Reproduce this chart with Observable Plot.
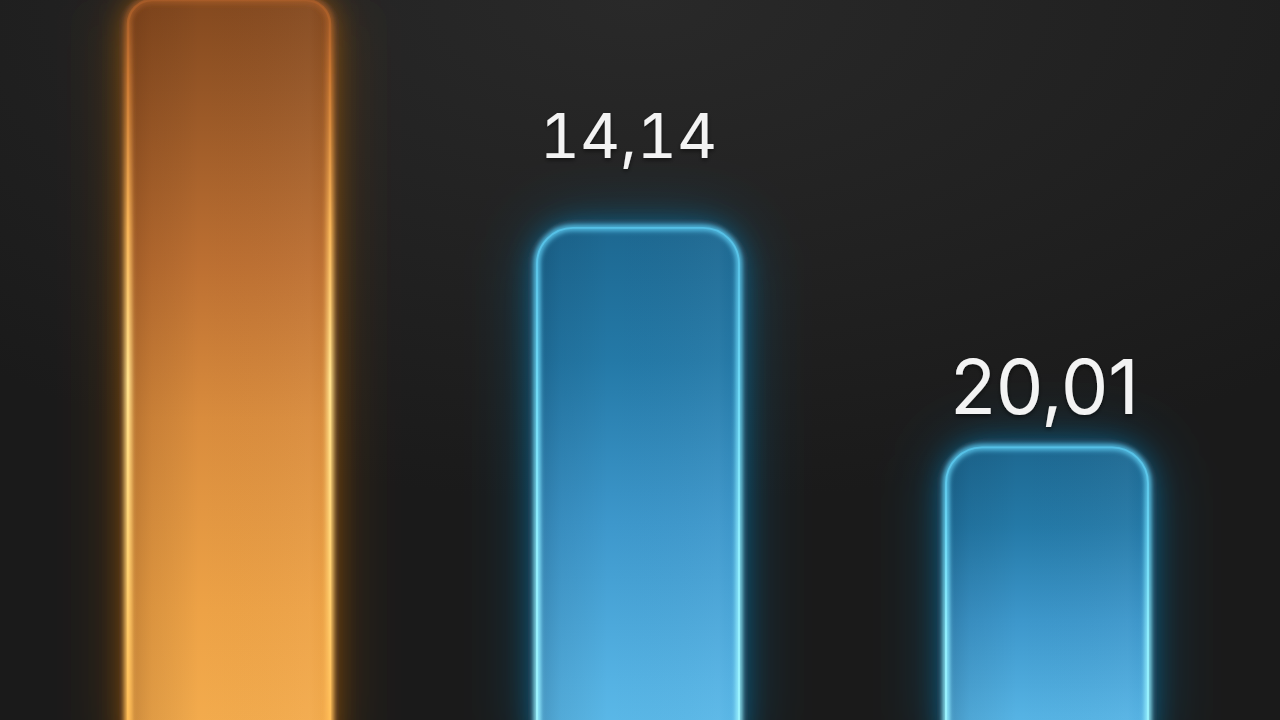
<!DOCTYPE html>
<html><head><meta charset="utf-8">
<script src="https://cdn.jsdelivr.net/npm/d3@7"></script>
<script src="https://cdn.jsdelivr.net/npm/@observablehq/plot@0.6"></script>
<style>
html,body{margin:0;padding:0;width:1280px;height:720px;overflow:hidden;background:#1d1d1d;}
#chart{position:absolute;left:0;top:0;width:1280px;height:720px;
  background:radial-gradient(ellipse 75% 70% at 50% 0%, #292929 0%, #212121 55%, #1a1a1a 100%);}
#chart svg{overflow:hidden;display:block;background:transparent;}
</style></head><body><div id="chart"></div>
<script>
// ---- data ----
const categories = ["Bar 1", "Bar 2", "Bar 3"];
const values = [100, 70.1, 41.3];           // bar heights (relative)
const labels = ["", "14,14", "20,01"];      // printed value labels
const series = ["orange", "blue", "blue"];

const data = categories.map((c, i) => ({category: c, value: values[i], label: labels[i], series: series[i]}));
const orange = data.filter(d => d.series === "orange");
const blue = data.filter(d => d.series === "blue");

const common = {x: "category", y: "value"};

const plot = Plot.plot({
  width: 1280,
  height: 720,
  marginLeft: 128,
  marginRight: 131,
  marginTop: 0,
  marginBottom: 0,
  style: {background: "transparent", overflow: "hidden"},
  x: {domain: categories, paddingInner: 0.505, paddingOuter: 0, axis: null},
  y: {domain: [0, 100], range: [762, 0], axis: null},
  marks: [
    // wide soft halos
    Plot.barY(orange, {...common, fill: "#a85a18", fillOpacity: 0.5, rx: 24, className: "halo2"}),
    Plot.barY(blue, {...common, fill: "#1a7cb8", fillOpacity: 0.5, rx: 36, className: "halo2"}),
    // tighter halos
    Plot.barY(orange, {...common, fill: "#b8651c", fillOpacity: 0.75, rx: 24, className: "halo"}),
    Plot.barY(blue, {...common, fill: "#1a84c0", fillOpacity: 0.7, rx: 36, className: "halo"}),
    // bodies
    Plot.barY(orange, {...common, fill: "url(#bodyO)", rx: 24}),
    Plot.barY(blue, {...common, fill: "url(#bodyB)", rx: 36}),
    // horizontal shading
    Plot.barY(orange, {...common, fill: "url(#shadeO)", rx: 24}),
    Plot.barY(blue, {...common, fill: "url(#shadeB)", rx: 36}),
    // edge glow
    Plot.barY(orange, {...common, fill: "none", stroke: "url(#edgeO)", strokeWidth: 7, rx: 24, className: "edgeglow"}),
    Plot.barY(blue, {...common, fill: "none", stroke: "url(#edgeB)", strokeWidth: 6, rx: 36, className: "edgeglow"}),
    // sharp edges
    Plot.barY(orange, {...common, fill: "none", stroke: "url(#edgeO)", strokeWidth: 2.4, rx: 24}),
    Plot.barY(blue, {...common, fill: "none", stroke: "url(#edgeB)", strokeWidth: 1.8, rx: 36}),
    // labels
    Plot.text([blue[0]], {...common, text: "label", dy: -70, dx: -10, lineAnchor: "bottom", fontSize: 62,
      fontFamily: "Inter", fontWeight: 400, fontVariant: "tabular-nums", fill: "#f3f3f3", className: "lbl"}),
    Plot.text([blue[1]], {...common, text: "label", dy: -34, dx: -3, lineAnchor: "bottom", fontSize: 75,
      fontFamily: "Inter", fontWeight: 400, fill: "#f3f3f3", className: "lbl"})
  ]
});

document.getElementById("chart").appendChild(plot);

// ---- gradients & filters ----
const svg = d3.select(plot);
const defs = svg.insert("defs", ":first-child");

function lin(id, stops, horiz) {
  const g = defs.append("linearGradient").attr("id", id)
    .attr("x1", 0).attr("y1", 0).attr("x2", horiz ? 1 : 0).attr("y2", horiz ? 0 : 1);
  stops.forEach(([o, c, op]) => g.append("stop").attr("offset", o).attr("stop-color", c).attr("stop-opacity", op == null ? 1 : op));
}
lin("bodyO", [[0, "#84491f"], [0.12, "#965626"], [0.35, "#bd7032"], [0.55, "#d98c3d"], [0.8, "#eda246"], [1, "#f5ae4f"]]);
lin("bodyB", [[0, "#1d6891"], [0.25, "#2479a7"], [0.55, "#3d97cb"], [0.85, "#55b2e3"], [1, "#5fbdeb"]]);
lin("shadeO", [[0, "#000", 0], [0.03, "#3a1400", 0.2], [0.12, "#3a1400", 0.1], [0.35, "#000", 0], [0.9, "#fff", 0.03], [1, "#000", 0]], true);
lin("shadeB", [[0, "#000", 0], [0.03, "#001a30", 0.18], [0.12, "#001a30", 0.08], [0.35, "#000", 0], [0.9, "#fff", 0.03], [1, "#000", 0]], true);
lin("edgeO", [[0, "#b0602a", 0.6], [0.1, "#d07c34", 0.8], [0.3, "#f6b458"], [0.5, "#ffe08a"], [0.75, "#ffd070"], [1, "#ffb850"]]);
lin("edgeB", [[0, "#55c0e6"], [0.3, "#70dcf8"], [0.6, "#92f1ff"], [1, "#a2f6ff"]]);

function blur(id, sd) {
  defs.append("filter").attr("id", id).attr("filterUnits", "userSpaceOnUse")
    .attr("x", -200).attr("y", -200).attr("width", 1700).attr("height", 1200)
    .append("feGaussianBlur").attr("stdDeviation", sd);
}
blur("fHalo2", 34);
blur("fHalo", 14);
blur("fEdge", 2.5);
const sh = defs.append("filter").attr("id", "fText").attr("filterUnits", "userSpaceOnUse")
  .attr("x", 0).attr("y", 0).attr("width", 1280).attr("height", 720);
sh.append("feDropShadow").attr("dx", 0).attr("dy", 2).attr("stdDeviation", 2).attr("flood-color", "#000").attr("flood-opacity", 0.5);

function applyFilter(cls, f) {
  svg.selectAll("." + cls).attr("filter", f);
}
applyFilter("halo2", "url(#fHalo2)");
applyFilter("halo", "url(#fHalo)");
applyFilter("edgeglow", "url(#fEdge)");
applyFilter("lbl", "url(#fText)");
</script>
</body></html>
